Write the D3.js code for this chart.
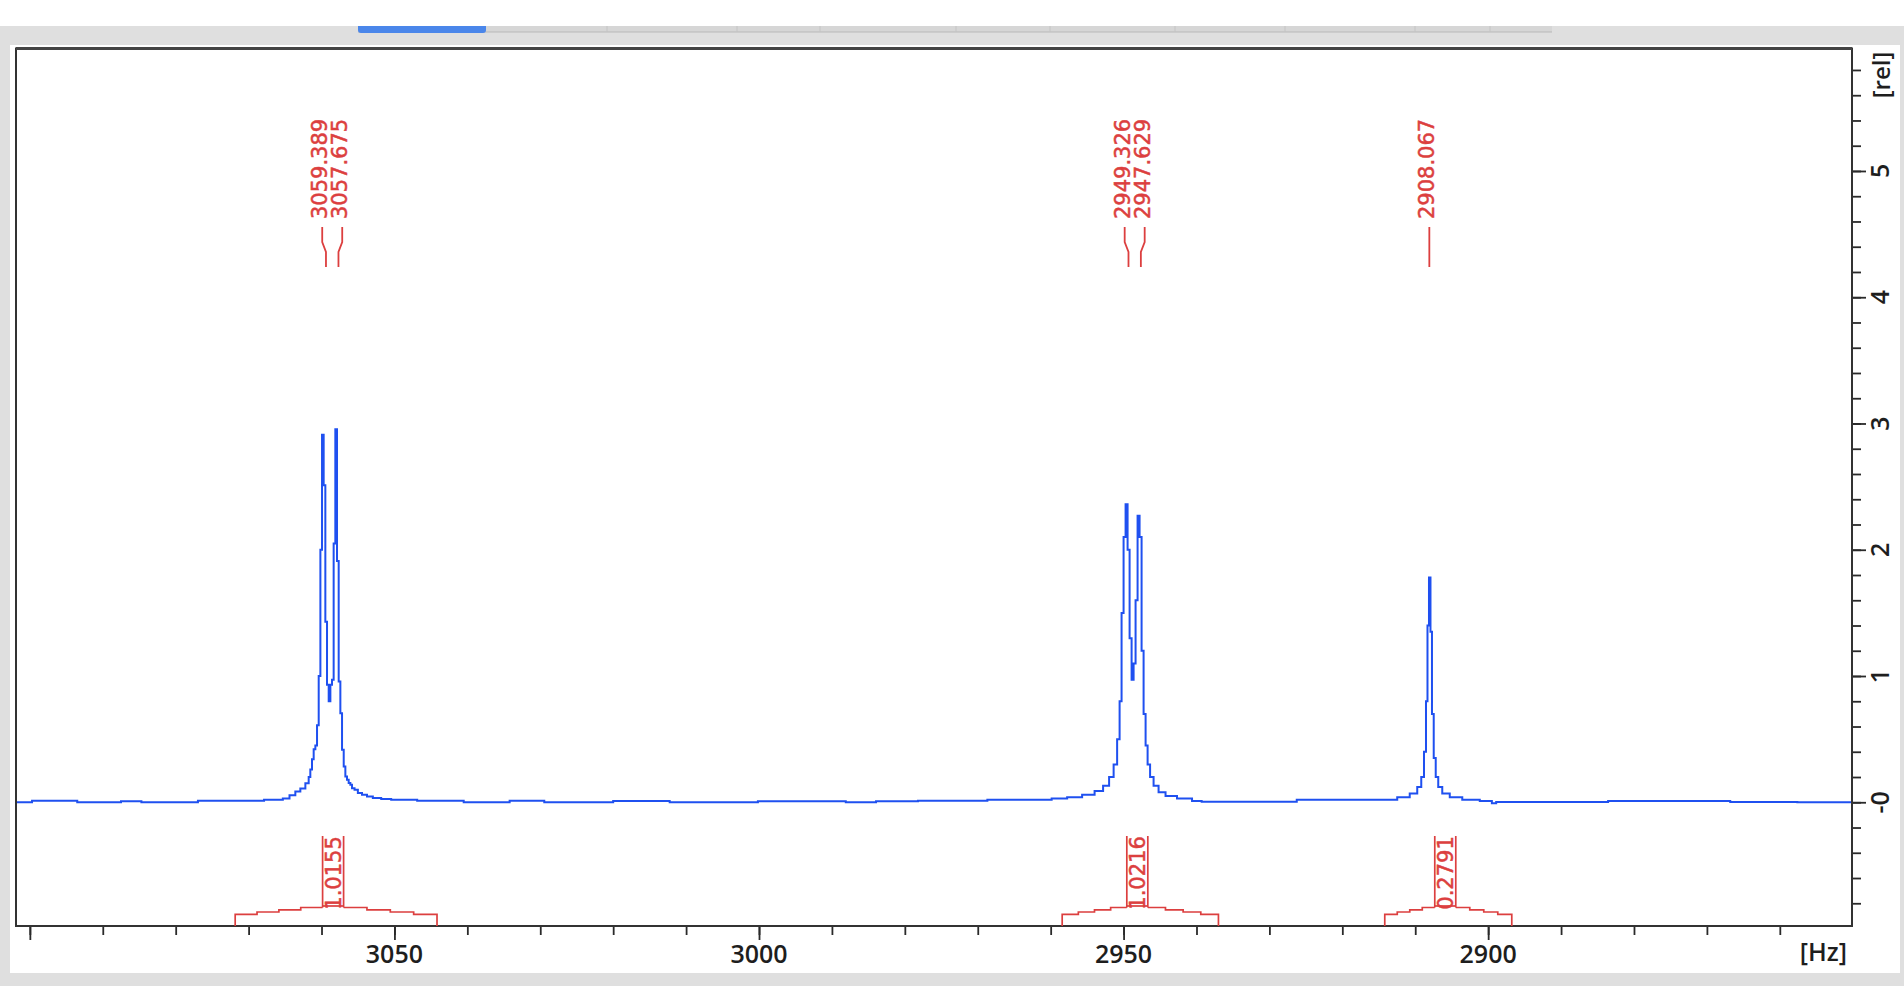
<!DOCTYPE html>
<html><head><meta charset="utf-8">
<script src="https://cdn.jsdelivr.net/npm/d3@7"></script>
<style>
html,body{margin:0;padding:0;background:#fff;overflow:hidden;}
svg{display:block;}
</style></head>
<body>
<svg id="chart" width="1904" height="986"></svg>
<script>
// ---------- data ----------
const xDomain = [3101.9, 2850.1];
const yDomain = [-0.98, 5.97];
const xTickValues = [3100,3090,3080,3070,3060,3050,3040,3030,3020,3010,3000,2990,2980,2970,2960,2950,2940,2930,2920,2910,2900,2890,2880,2870,2860];
const xMajorTicks = [3100, 3050, 3000, 2950, 2900];
const xLabelValues = [3050, 3000, 2950, 2900];
const yTickValues = [-0.8,-0.6,-0.4,-0.2,0,0.2,0.4,0.6,0.8,1,1.2,1.4,1.6,1.8,2,2.2,2.4,2.6,2.8,3,3.2,3.4,3.6,3.8,4,4.2,4.4,4.6,4.8,5,5.2,5.4,5.6,5.8];
const yLabelValues = [0, 1, 2, 3, 4, 5];
const yLabelTexts = ["-0", "1", "2", "3", "4", "5"];
const xUnit = "[Hz]";
const yUnit = "[rel]";
const peakLabels = [3059.389, 3057.675, 2949.326, 2947.629, 2908.067];
const integralStart = [3071.84, 2958.42, 2914.18];
const integralEnd = [3044.16, 2936.99, 2896.76];
const integralValues = ["1.0155", "1.0216", "0.2791"];
// spectrum: [Hz, rel intensity]
const baselineA = [[3101.9,0],[3097.5,0.012],[3089.5,0],[3085.5,0.008],[3083.9,0],[3070.0,0.012]];
const peak1 = [[3065.76,0.02],[3064.85,0.03],[3063.93,0.055],[3063.25,0.085],[3062.56,0.11],[3061.87,0.15],[3061.65,0.2],[3061.42,0.26],[3061.19,0.34],[3060.96,0.42],[3060.73,0.45],[3060.50,0.61],[3060.27,1.0],[3060.04,2.0],[3059.82,2.91],[3059.59,2.51],[3059.36,1.43],[3059.13,0.93],[3058.90,0.80],[3058.67,0.93],[3058.45,0.97],[3058.22,2.05],[3057.99,2.955],[3057.76,1.91],[3057.53,0.956],[3057.30,0.706],[3057.07,0.416],[3056.84,0.283],[3056.62,0.204],[3056.39,0.178],[3056.16,0.152],[3055.93,0.139],[3055.70,0.112],[3055.24,0.099],[3054.79,0.073],[3054.10,0.059],[3053.42,0.046],[3052.50,0.033],[3051.13,0.025],[3049.76,0.02]];
const baselineB = [[3044.0,0.012],[3037.0,0],[3031.4,0.012],[3027.5,0],[3012.5,0.01],[3012.0,0],[2988.3,0.008],[2987.9,0],[2980.0,0.008],[2976.4,0.012]];
const peak2 = [[2960.96,0.02],[2958.77,0.03],[2956.71,0.04],[2954.66,0.06],[2953.29,0.09],[2952.33,0.13],[2951.64,0.2],[2951.09,0.3],[2950.68,0.5],[2950.41,0.8],[2950.14,1.5],[2949.86,2.1],[2949.59,2.36],[2949.31,2.0],[2949.04,1.3],[2948.76,0.97],[2948.49,1.1],[2948.22,1.6],[2947.94,2.27],[2947.67,2.1],[2947.39,1.2],[2947.12,0.7],[2946.84,0.45],[2946.57,0.3],[2946.16,0.2],[2945.61,0.13],[2944.79,0.08],[2943.70,0.05],[2941.64,0.03],[2939.58,0.01]];
const baselineC = [[2939.0,0.005]];
const peak3 = [[2913.50,0.02],[2911.44,0.04],[2910.07,0.07],[2909.38,0.12],[2908.97,0.2],[2908.63,0.4],[2908.42,0.8],[2908.22,1.4],[2908.01,1.78],[2907.81,1.35],[2907.60,0.7],[2907.33,0.35],[2907.05,0.2],[2906.64,0.12],[2905.95,0.07],[2904.58,0.04],[2902.52,0.02],[2899.78,0.01]];
const baselineD = [[2899.2,-0.008],[2898.6,0.003],[2868.5,0.01],[2865.1,0.002],[2850.1,0]];

// ---------- layout ----------
const plot = {left:16, top:48.5, right:1852, bottom:926};
const blue = "#1f50f0", red = "#dc3f3f", ink = "#1e1e1e";
const axisFont = "'Open Sans', 'Liberation Sans', Arial, sans-serif";
const labelFont = "'DejaVu Sans', sans-serif";
const svg = d3.select("#chart");

// window chrome
svg.append("rect").attr("x",0).attr("y",0).attr("width",1904).attr("height",986).attr("fill","#fff");
svg.append("rect").attr("x",0).attr("y",26).attr("width",1904).attr("height",960).attr("fill","#dfdfdf");
svg.append("rect").attr("x",10).attr("y",45).attr("width",1890).attr("height",928).attr("fill","#fff");
svg.append("rect").attr("x",358).attr("y",26).attr("width",1194).attr("height",6).attr("fill","#d6d6d6");
svg.append("line").attr("x1",358).attr("x2",1552).attr("y1",32).attr("y2",32).attr("stroke","#b9b9b9").attr("stroke-width",1);
[607,737,820,956,1050,1175,1285,1415,1490].forEach(d=>{
  svg.append("line").attr("x1",d).attr("x2",d).attr("y1",26).attr("y2",32).attr("stroke","#c4c4c4");
});
svg.append("path").attr("d","M358,26 H486 V30 Q486,33 483,33 H361 Q358,33 358,30 Z").attr("fill","#4a86ea");

const x = d3.scaleLinear().domain(xDomain).range([plot.left, plot.right]);
const y = d3.scaleLinear().domain(yDomain).range([plot.bottom, plot.top]);

svg.append("defs").append("clipPath").attr("id","clip")
  .append("rect").attr("x",plot.left).attr("y",plot.top).attr("width",plot.right-plot.left).attr("height",plot.bottom-plot.top);

// spectrum
const spectrum = [].concat(baselineA, peak1, baselineB, peak2, baselineC, peak3, baselineD);
const line = d3.line().x(d=>x(d[0])).y(d=>y(d[1])).curve(d3.curveStep);
svg.append("path").attr("clip-path","url(#clip)").attr("d", line(spectrum))
  .attr("fill","none").attr("stroke",blue).attr("stroke-width",2).attr("stroke-linejoin","miter");

// x axis
const gx = svg.append("g").attr("transform",`translate(0,${plot.bottom})`);
gx.call(d3.axisBottom(x).tickValues(xTickValues).tickSize(9).tickFormat(""));
const gx2 = svg.append("g").attr("transform",`translate(0,${plot.bottom})`);
gx2.call(d3.axisBottom(x).tickValues(xMajorTicks).tickSize(14).tickFormat(""));
[gx,gx2].forEach(g=>{
  g.select(".domain").remove();
  g.selectAll(".tick line").attr("stroke","#2a2a2a").attr("stroke-width",1.8);
});
svg.append("g").selectAll("text").data(xLabelValues).join("text")
  .attr("x",d=>x(d)).attr("y",963).attr("text-anchor","middle")
  .attr("font-family",axisFont).attr("font-weight",600).attr("font-size",25).attr("fill",ink)
  .text(d=>d3.format("d")(d));
svg.append("text").attr("x",1847).attr("y",961).attr("text-anchor","end")
  .attr("font-family",axisFont).attr("font-weight",600).attr("font-size",25).attr("fill",ink).text(xUnit);

// y axis
const gy = svg.append("g").attr("transform",`translate(${plot.right},0)`);
gy.call(d3.axisRight(y).tickValues(yTickValues).tickSize(9).tickFormat(""));
const gy2 = svg.append("g").attr("transform",`translate(${plot.right},0)`);
gy2.call(d3.axisRight(y).tickValues(yLabelValues).tickSize(14).tickFormat(""));
[gy,gy2].forEach(g=>{
  g.select(".domain").remove();
  g.selectAll(".tick line").attr("stroke","#2a2a2a").attr("stroke-width",1.8);
});
svg.append("g").selectAll("text").data(yLabelValues).join("text")
  .attr("transform",d=>`translate(1889,${y(d)}) rotate(-90)`)
  .attr("text-anchor","middle").attr("font-family",axisFont).attr("font-weight",600)
  .attr("font-size",25).attr("fill",ink).text((d,i)=>yLabelTexts[i]);
svg.append("text").attr("transform",`translate(1890,75) rotate(-90)`)
  .attr("text-anchor","middle").attr("font-family",axisFont).attr("font-weight",600)
  .attr("font-size",24).attr("fill",ink).text(yUnit);

// frame
svg.append("rect").attr("x",plot.left).attr("y",plot.top).attr("width",plot.right-plot.left).attr("height",plot.bottom-plot.top)
  .attr("fill","none").attr("stroke","#333").attr("stroke-width",2);
svg.append("line").attr("x1",plot.left).attr("x2",plot.right).attr("y1",plot.top).attr("y2",plot.top).attr("stroke","#444").attr("stroke-width",3);

// peak labels
const pk = peakLabels.map(v=>({v, p:x(v)}));
const groups = [];
pk.forEach(d=>{ const g = groups[groups.length-1]; if (g && d.p - g[g.length-1].p < 20) g.push(d); else groups.push([d]); });
groups.forEach(g=>{
  const m = d3.mean(g, d=>d.p);
  g.forEach((d,i)=>{ d.lx = m + (i-(g.length-1)/2)*20; });
});
const lbl = svg.append("g");
pk.forEach(d=>{
  lbl.append("path").attr("d",`M${d.lx},227 V242 L${d.p},252 V267`).attr("fill","none").attr("stroke",red).attr("stroke-width",1.8);
  lbl.append("text").attr("transform",`translate(${d.lx+5},219) rotate(-90)`)
    .attr("font-family",labelFont).attr("font-size",21).attr("fill",red)
    .attr("stroke",red).attr("stroke-width",0.5).text(d3.format(".3f")(d.v));
});

// integrals
const levels = [914.3, 912, 909.8, 907.5];
integralStart.forEach((s,i)=>{
  const x0 = x(s), x1 = x(integralEnd[i]);
  const cx = (x0+x1)/2 - 3;
  const bl = cx - 10.5, br = cx + 10.5;
  const n = levels.length;
  let dl = `M${x0},${plot.bottom} V${levels[0]}`;
  for (let k=0;k<n;k++){ const xb = x0 + (bl-x0)*(k+1)/n; dl += ` H${xb}`; if (k<n-1) dl += ` V${levels[k+1]}`; }
  let dr = `M${x1},${plot.bottom} V${levels[0]}`;
  for (let k=0;k<n;k++){ const xb = x1 - (x1-br)*(k+1)/n; dr += ` H${xb}`; if (k<n-1) dr += ` V${levels[k+1]}`; }
  const g = svg.append("g");
  [dl, dr, `M${bl},${levels[n-1]} V836`, `M${br},${levels[n-1]} V836`, `M${bl},906 H${br}`].forEach(d=>{
    g.append("path").attr("d",d).attr("fill","none").attr("stroke",red).attr("stroke-width",1.7);
  });
  g.append("text").attr("transform",`translate(${cx+7.6},873) rotate(-90)`).attr("text-anchor","middle")
    .attr("font-family",labelFont).attr("font-size",21).attr("fill",red)
    .attr("stroke",red).attr("stroke-width",0.5).text(integralValues[i]);
});
</script>
</body></html>
